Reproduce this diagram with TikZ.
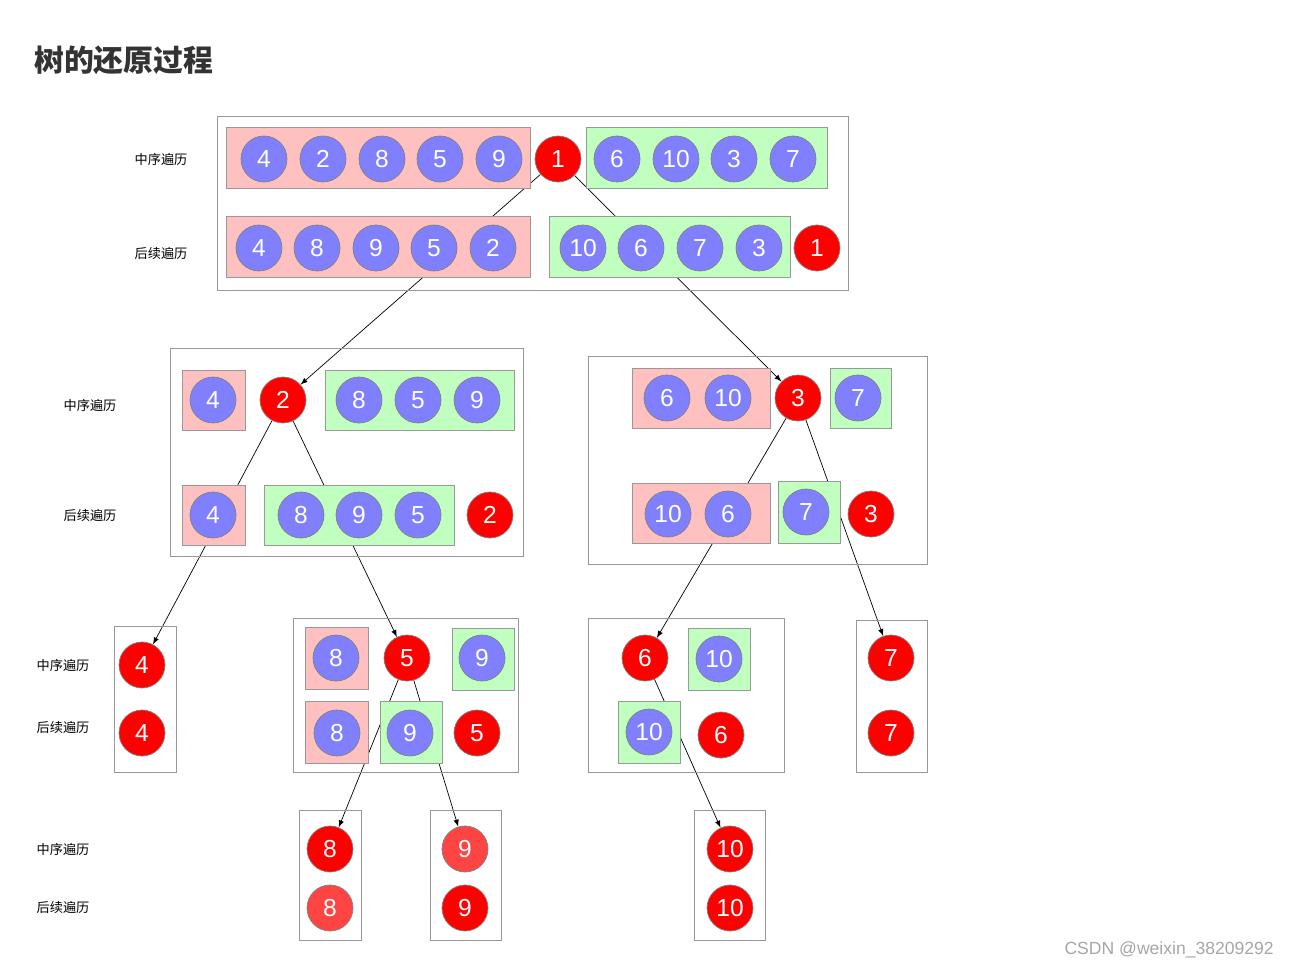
\documentclass[tikz,border=0pt]{standalone}
\usepackage{fontspec}
\setmainfont{Liberation Sans}
\newfontfamily\cjk{Noto Sans CJK SC}
\definecolor{nb}{HTML}{8080FF}
\definecolor{nr}{HTML}{FF0000}
\definecolor{nl}{HTML}{FF4444}
\definecolor{pk}{HTML}{FFC0C0}
\definecolor{gr}{HTML}{C0FFC0}
\definecolor{bd}{HTML}{999999}
\pgfdeclarelayer{bg}
\pgfsetlayers{bg,main}
\tikzset{
 b/.style={circle,fill=nb,draw=gray,minimum size=0.92cm,inner sep=0pt,text=white,font=\fontsize{14}{14}\selectfont},
 r/.style={b,fill=nr},
 rl/.style={b,fill=nl},
 pkb/.style={fill=pk,draw=bd},
 grb/.style={fill=gr,draw=bd},
 frame/.style={draw=bd},
 lab/.style={font=\cjk\fontsize{7.5}{8}\selectfont},
 con/.style={-latex,black,thin}
}
\begin{document}
\begin{tikzpicture}[x=0.02cm,y=-0.02cm]
\useasboundingbox (0,0) rectangle (1293,969);
\node[anchor=west,font=\cjk\bfseries\fontsize{17}{17}\selectfont,text=black!80] (title) at (28,60) {树的还原过程};
\node[anchor=east,text=gray!70,font=\fontsize{10}{10}\selectfont] (wm) at (1280,950) {CSDN @weixin\_38209292};
% frames
\draw[frame] (217,116) rectangle (848,290);
\draw[frame] (170,348) rectangle (523,556);
\draw[frame] (588,356) rectangle (927,564);
\draw[frame] (114,626) rectangle (176,772);
\draw[frame] (293,618) rectangle (518,772);
\draw[frame] (588,618) rectangle (784,772);
\draw[frame] (856,620) rectangle (927,772);
\draw[frame] (299,810) rectangle (361,940);
\draw[frame] (430,810) rectangle (501,940);
\draw[frame] (694,810) rectangle (765,940);
% labels
\node[lab] (l1) at (161,159) {中序遍历};
\node[lab] (l2) at (161,253) {后续遍历};
\node[lab] (l3) at (90,405) {中序遍历};
\node[lab] (l4) at (90,515) {后续遍历};
\node[lab] (l5) at (63,665) {中序遍历};
\node[lab] (l6) at (63,727) {后续遍历};
\node[lab] (l7) at (63,849) {中序遍历};
\node[lab] (l8) at (63,907) {后续遍历};
% boxes
\draw[pkb] (226,127) rectangle (530,188);
\draw[grb] (586,127) rectangle (827,188);
\draw[pkb] (226,216) rectangle (530,277);
\draw[grb] (549,216) rectangle (790,277);
\draw[pkb] (182,370) rectangle (245,430);
\draw[grb] (325,370) rectangle (514,430);
\draw[pkb] (182,485) rectangle (245,545);
\draw[grb] (264,485) rectangle (454,545);
\draw[pkb] (632,368) rectangle (770,428);
\draw[grb] (830,368) rectangle (891,428);
\draw[pkb] (632,483) rectangle (770,543);
\draw[grb] (778,481) rectangle (840,543);
\draw[pkb] (305,627) rectangle (368,689);
\draw[grb] (452,628) rectangle (514,690);
\draw[pkb] (305,701) rectangle (368,763);
\draw[grb] (380,701) rectangle (442,763);
\draw[grb] (688,628) rectangle (750,690);
\draw[grb] (618,701) rectangle (680,763);
% top level
\foreach \x/\t [count=\i] in {264/4,323/2,382/8,440/5,499/9} \node[b] (ta\i) at (\x,159) {\t};
\node[r] (t1) at (558,159) {1};
\foreach \x/\t [count=\i] in {617/6,676/10,734/3,793/7} \node[b] (tb\i) at (\x,159) {\t};
\foreach \x/\t [count=\i] in {259/4,317/8,376/9,434/5,493/2} \node[b] (tc\i) at (\x,248) {\t};
\foreach \x/\t [count=\i] in {583/10,641/6,700/7,759/3} \node[b] (td\i) at (\x,248) {\t};
\node[r] (t1b) at (817,248) {1};
% level 2 left
\node[b] (la1) at (213,400) {4};
\node[r] (t2) at (283,400) {2};
\foreach \x/\t [count=\i] in {359/8,418/5,477/9} \node[b] (lb\i) at (\x,400) {\t};
\node[b] (lc1) at (213,515) {4};
\foreach \x/\t [count=\i] in {301/8,359/9,418/5} \node[b] (ld\i) at (\x,515) {\t};
\node[r] (t2b) at (490,515) {2};
% level 2 right
\node[b] (ra1) at (667,398) {6};
\node[b] (ra2) at (728,398) {10};
\node[r] (t3) at (798,398) {3};
\node[b] (ra3) at (858,398) {7};
\node[b] (rb1) at (668,514) {10};
\node[b] (rb2) at (728,514) {6};
\node[b] (rb3) at (806,512) {7};
\node[r] (t3b) at (871,514) {3};
% level 3
\node[r] (t4) at (142,665) {4};
\node[r] (t4b) at (142,733) {4};
\node[b] (ma1) at (336,658) {8};
\node[r] (t5) at (407,658) {5};
\node[b] (ma2) at (482,658) {9};
\node[b] (ma3) at (337,733) {8};
\node[b] (ma4) at (410,733) {9};
\node[r] (t5b) at (477,733) {5};
\node[r] (t6) at (645,658) {6};
\node[b] (na1) at (719,659) {10};
\node[b] (na2) at (649,732) {10};
\node[r] (t6b) at (721,735) {6};
\node[r] (t7) at (891,658) {7};
\node[r] (t7b) at (891,733) {7};
% level 4
\node[r] (t8) at (330,849) {8};
\node[rl] (t8b) at (330,908) {8};
\node[rl] (t9) at (465,849) {9};
\node[r] (t9b) at (465,908) {9};
\node[r] (t10) at (730,849) {10};
\node[r] (t10b) at (730,908) {10};
% connectors
\begin{pgfonlayer}{bg}
\draw[con] (t1) -- (t2);
\draw[con] (t1) -- (t3);
\draw[con] (t2) -- (t4);
\draw[con] (t2) -- (t5);
\draw[con] (t3) -- (t6);
\draw[con] (t3) -- (t7);
\draw[con] (t5) -- (t8);
\draw[con] (t5) -- (t9);
\draw[con] (t6) -- (t10);
\end{pgfonlayer}
\end{tikzpicture}
\end{document}
